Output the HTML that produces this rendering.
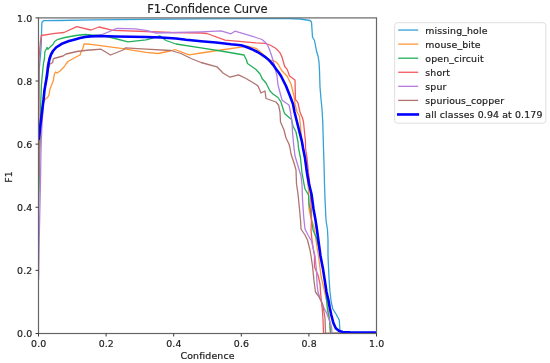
<!DOCTYPE html>
<html><head><meta charset="utf-8"><title>F1-Confidence Curve</title>
<style>html,body{margin:0;padding:0;background:#fff;}svg{display:block;} text{stroke:#222;stroke-width:0.2px;}</style>
</head><body>
<svg width="550" height="363" viewBox="0 0 550 363" font-family='"DejaVu Sans", "Liberation Sans", sans-serif' font-size="9.4" letter-spacing="0.13" fill="#222"><defs><clipPath id="ax"><rect x="38.50" y="17.90" width="338.00" height="315.60"/></clipPath></defs>
<g clip-path="url(#ax)" fill="none" stroke-linejoin="round" stroke-linecap="butt">
<polyline stroke="#33a2d8" stroke-width="1.3" points="38.6,110.0 39.2,70.0 40.0,60.0 40.6,54.0 41.2,46.0 41.6,30.0 41.9,22.5 43.5,20.7 60.0,20.5 91.0,19.8 146.0,19.3 201.0,18.9 256.0,18.6 289.0,18.6 300.0,19.0 310.0,20.5 311.5,22.0 312.5,37.0 314.5,40.5 316.5,51.0 318.0,56.0 319.0,62.0 319.5,71.0 320.0,87.0 321.0,99.0 322.0,109.0 322.8,123.0 323.5,148.0 324.0,163.0 324.5,184.0 325.0,199.0 326.0,220.0 327.5,230.0 328.0,240.0 328.0,256.0 329.0,278.0 330.0,292.0 331.2,302.0 332.8,309.0 336.3,314.5 339.3,320.3 339.8,329.0 339.8,333.5 377.0,333.5"/>
<polyline stroke="#ff9638" stroke-width="1.3" points="38.5,185.0 39.5,150.0 41.0,120.0 43.0,103.0 44.7,100.0 46.0,98.6 47.5,97.5 48.9,95.3 49.3,93.0 50.0,89.0 52.0,84.0 53.5,80.0 54.0,76.0 54.5,74.0 55.5,72.0 57.0,73.0 60.0,71.0 64.0,67.0 66.0,64.0 68.0,61.5 76.0,57.0 80.0,55.0 81.0,52.0 83.0,48.0 84.0,44.0 86.0,44.0 91.0,44.3 121.0,48.3 146.0,52.3 158.0,53.5 170.0,51.0 175.0,49.5 189.0,54.8 201.0,53.0 221.0,50.0 241.0,47.2 247.0,46.2 256.0,48.3 261.0,52.6 265.0,56.2 269.0,60.0 272.3,60.6 275.6,61.6 278.0,64.0 281.4,70.0 284.0,73.0 287.0,76.0 291.0,84.0 294.0,96.0 295.0,104.0 297.0,112.0 299.5,116.0 300.0,122.0 301.0,132.0 303.0,148.0 305.0,160.0 307.0,175.0 308.5,190.0 309.0,209.0 311.5,220.0 314.0,227.0 316.0,240.0 317.5,250.0 318.5,256.0 321.0,276.0 324.0,289.0 327.0,302.0 329.0,315.0 330.0,325.0 330.5,333.5 377.0,333.5"/>
<polyline stroke="#22b05a" stroke-width="1.3" points="38.6,206.0 39.4,170.0 40.5,110.0 41.4,85.0 42.2,76.0 43.5,63.0 44.4,59.0 44.9,51.5 46.5,48.8 47.0,47.4 47.9,49.3 49.6,47.4 53.4,43.9 54.5,41.5 58.0,39.3 65.0,37.5 76.0,35.5 85.0,34.5 91.0,35.0 101.0,35.5 111.0,37.5 128.0,41.8 146.0,39.8 160.0,36.0 166.0,40.5 176.0,44.0 201.0,47.8 221.0,51.0 244.0,55.0 246.5,60.0 247.5,63.5 256.0,69.5 260.0,74.0 261.0,76.0 262.0,78.5 266.0,83.0 270.0,91.0 273.0,94.0 278.0,97.5 281.0,102.0 284.0,112.0 285.0,114.0 291.5,119.5 293.0,126.0 296.0,132.0 298.0,142.0 298.5,148.0 300.5,158.0 302.0,173.0 304.0,184.0 305.0,189.0 308.5,195.0 309.0,204.0 310.5,210.0 311.5,220.0 313.0,230.0 316.5,238.0 319.0,248.0 320.5,256.0 323.0,269.0 325.0,282.0 326.0,292.0 326.5,300.0 327.5,310.0 329.5,320.0 330.5,333.5 377.0,333.5"/>
<polyline stroke="#f25a60" stroke-width="1.3" points="38.8,175.0 38.9,120.0 38.9,76.0 39.0,59.0 39.7,50.0 40.4,42.0 41.3,35.5 55.0,33.4 64.0,32.5 76.8,26.7 91.0,30.0 99.0,27.0 113.0,30.3 146.0,31.5 171.0,32.5 201.0,33.0 207.0,33.5 225.0,40.2 256.0,42.8 265.0,43.3 270.0,45.0 275.6,48.3 279.7,52.4 281.8,56.5 283.5,62.3 284.7,66.5 287.2,69.4 289.5,76.0 295.0,80.0 295.5,100.0 296.5,100.5 298.0,103.0 300.0,112.0 302.5,118.0 303.5,122.0 304.5,132.0 305.5,142.0 305.5,148.0 307.0,158.0 308.5,173.0 309.5,181.0 310.5,195.0 311.5,214.0 311.5,220.0 311.0,230.0 312.0,240.0 313.5,250.0 314.5,256.0 314.5,267.0 318.0,275.0 320.0,284.0 320.5,292.0 321.5,302.0 322.5,312.0 323.0,320.0 323.5,333.5 377.0,333.5"/>
<polyline stroke="#b47ee0" stroke-width="1.3" points="38.6,279.5 39.2,240.0 40.3,190.0 41.0,150.0 41.8,128.0 43.0,110.0 44.5,90.0 46.0,76.0 47.5,65.0 49.5,57.0 52.0,52.0 56.0,48.0 62.0,44.3 69.0,41.3 80.0,38.0 91.0,36.2 101.0,35.0 117.0,28.3 135.0,28.8 146.0,30.4 156.0,33.0 176.0,32.5 201.0,31.8 221.0,30.8 231.0,33.8 235.0,31.2 256.0,37.5 262.0,39.5 266.0,43.0 268.0,46.0 270.0,51.0 273.0,60.0 277.0,76.0 278.0,85.0 282.0,100.0 286.0,103.0 289.0,105.0 290.5,112.0 292.0,122.0 292.5,132.0 294.0,148.0 295.0,156.0 298.0,166.0 301.0,176.0 302.0,184.0 302.5,199.0 303.5,214.0 304.0,220.0 305.0,229.0 308.0,235.0 311.5,241.0 313.5,250.0 315.0,256.0 316.5,271.0 317.0,284.0 318.0,292.0 320.0,298.0 324.0,308.0 327.0,314.0 330.0,322.0 331.5,327.0 332.0,333.5 377.0,333.5"/>
<polyline stroke="#b07470" stroke-width="1.3" points="38.5,192.0 39.3,150.0 40.5,125.0 42.0,110.0 43.5,98.0 45.0,86.0 46.5,76.0 48.0,69.0 50.0,64.0 52.7,62.5 53.2,59.0 54.0,58.5 63.0,56.0 66.0,54.0 77.0,51.5 89.0,50.0 91.0,50.0 101.0,49.2 110.5,55.0 123.0,50.0 125.5,47.8 146.0,49.2 171.0,50.5 181.0,53.5 191.0,58.5 201.0,62.5 217.0,66.8 223.0,73.0 230.0,77.2 238.5,74.8 246.0,78.5 256.0,84.5 258.0,86.0 261.0,93.0 265.0,91.0 266.0,98.5 276.0,102.0 278.5,105.0 280.0,112.0 280.5,122.0 284.0,130.0 286.0,138.0 289.0,144.0 290.0,148.0 291.0,154.0 294.0,163.0 296.0,170.0 296.5,184.0 298.0,194.0 299.5,209.0 300.5,220.0 301.0,229.0 305.0,235.0 307.5,240.0 310.0,250.0 311.0,256.0 312.5,266.0 314.0,281.0 315.5,292.0 318.5,296.0 322.5,304.0 324.0,312.0 325.0,318.0 325.5,333.5 377.0,333.5"/>
<polyline stroke="blue" stroke-width="2.6" points="38.5,140.0 39.5,133.0 40.5,124.0 42.0,112.0 43.5,100.0 44.5,90.0 47.0,76.0 48.3,65.0 49.5,59.0 51.0,54.5 53.0,51.0 56.0,47.5 62.0,43.6 69.0,41.0 74.0,39.7 80.0,38.0 85.0,37.0 90.0,36.4 101.0,36.0 116.0,36.5 146.0,37.0 161.0,37.5 176.0,38.5 186.0,39.8 201.0,41.2 216.0,42.5 231.0,44.3 241.0,45.2 245.0,46.5 249.0,48.0 253.3,49.9 257.5,52.0 261.5,54.5 265.0,56.8 268.2,59.4 271.0,62.3 273.1,64.8 276.0,69.0 278.5,72.3 281.0,76.0 286.0,86.0 290.0,96.0 293.0,104.0 294.5,112.0 297.0,122.0 299.5,132.0 302.0,142.0 303.0,148.0 305.0,158.0 307.0,173.0 309.0,184.0 311.5,194.0 313.5,209.0 315.5,220.0 317.0,230.0 319.0,245.0 320.5,256.0 323.0,269.0 325.0,282.0 326.5,292.0 328.4,300.0 329.8,308.0 331.3,315.0 333.3,322.8 335.8,328.3 338.8,330.8 342.7,332.0 350.0,332.3 377.0,332.5"/>
</g>
<rect x="38.50" y="17.90" width="338.00" height="315.60" fill="none" stroke="#666" stroke-width="1.2"/>
<line x1="38.50" y1="333.50" x2="38.50" y2="336.50" stroke="#3a3a3a" stroke-width="1"/>
<line x1="35.50" y1="333.50" x2="38.50" y2="333.50" stroke="#3a3a3a" stroke-width="1"/>
<text x="38.70" y="346.8" text-anchor="middle">0.0</text>
<text x="32.4" y="337.30" text-anchor="end">0.0</text>
<line x1="106.10" y1="333.50" x2="106.10" y2="336.50" stroke="#3a3a3a" stroke-width="1"/>
<line x1="35.50" y1="270.38" x2="38.50" y2="270.38" stroke="#3a3a3a" stroke-width="1"/>
<text x="106.30" y="346.8" text-anchor="middle">0.2</text>
<text x="32.4" y="274.18" text-anchor="end">0.2</text>
<line x1="173.70" y1="333.50" x2="173.70" y2="336.50" stroke="#3a3a3a" stroke-width="1"/>
<line x1="35.50" y1="207.26" x2="38.50" y2="207.26" stroke="#3a3a3a" stroke-width="1"/>
<text x="173.90" y="346.8" text-anchor="middle">0.4</text>
<text x="32.4" y="211.06" text-anchor="end">0.4</text>
<line x1="241.30" y1="333.50" x2="241.30" y2="336.50" stroke="#3a3a3a" stroke-width="1"/>
<line x1="35.50" y1="144.14" x2="38.50" y2="144.14" stroke="#3a3a3a" stroke-width="1"/>
<text x="241.50" y="346.8" text-anchor="middle">0.6</text>
<text x="32.4" y="147.94" text-anchor="end">0.6</text>
<line x1="308.90" y1="333.50" x2="308.90" y2="336.50" stroke="#3a3a3a" stroke-width="1"/>
<line x1="35.50" y1="81.02" x2="38.50" y2="81.02" stroke="#3a3a3a" stroke-width="1"/>
<text x="309.10" y="346.8" text-anchor="middle">0.8</text>
<text x="32.4" y="84.82" text-anchor="end">0.8</text>
<line x1="376.50" y1="333.50" x2="376.50" y2="336.50" stroke="#3a3a3a" stroke-width="1"/>
<line x1="35.50" y1="17.90" x2="38.50" y2="17.90" stroke="#3a3a3a" stroke-width="1"/>
<text x="376.70" y="346.8" text-anchor="middle">1.0</text>
<text x="32.4" y="21.70" text-anchor="end">1.0</text>
<text x="207.6" y="359.1" text-anchor="middle">Confidence</text>
<text transform="translate(12.2,177) rotate(-90)" text-anchor="middle" font-size="9.3">F1</text>
<text x="207.4" y="13.2" text-anchor="middle" font-size="11.5" letter-spacing="0">F1-Confidence Curve</text>
<rect x="394.60" y="22.70" width="151.20" height="100.50" rx="2.8" fill="#fff" fill-opacity="0.8" stroke="#d6d6d6" stroke-width="0.8"/>
<line x1="398.20" y1="30.05" x2="418.20" y2="30.05" stroke="#33a2d8" stroke-width="1.3"/>
<text x="425.3" y="33.70">missing_hole</text>
<line x1="398.20" y1="44.12" x2="418.20" y2="44.12" stroke="#ff9638" stroke-width="1.3"/>
<text x="425.3" y="47.77">mouse_bite</text>
<line x1="398.20" y1="58.19" x2="418.20" y2="58.19" stroke="#22b05a" stroke-width="1.3"/>
<text x="425.3" y="61.84">open_circuit</text>
<line x1="398.20" y1="72.26" x2="418.20" y2="72.26" stroke="#f25a60" stroke-width="1.3"/>
<text x="425.3" y="75.91">short</text>
<line x1="398.20" y1="86.33" x2="418.20" y2="86.33" stroke="#b47ee0" stroke-width="1.3"/>
<text x="425.3" y="89.98">spur</text>
<line x1="398.20" y1="100.40" x2="418.20" y2="100.40" stroke="#b07470" stroke-width="1.3"/>
<text x="425.3" y="104.05">spurious_copper</text>
<line x1="397.00" y1="114.47" x2="419.10" y2="114.47" stroke="blue" stroke-width="2.6"/>
<text x="425.3" y="118.12">all classes 0.94 at 0.179</text></svg>
</body></html>
